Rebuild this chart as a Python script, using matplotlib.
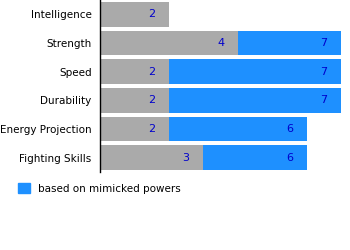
import matplotlib
matplotlib.use("Agg")
import matplotlib.pyplot as plt
from matplotlib.patches import Patch

# stats, top to bottom
categories = ["Intelligence", "Strength", "Speed", "Durability", "Energy Projection", "Fighting Skills"]
base = [2, 4, 2, 2, 2, 3]
mimicked = [2, 7, 7, 7, 6, 6]  # total with mimicked powers

grey = "#aaaaaa"
blue = "#1e90ff"
label_col = "#0000cc"

fig = plt.figure(figsize=(3.5, 2.5), dpi=100)
ax = fig.add_axes([100 / 350, 78 / 250, 250 / 350, 172 / 250])

y = list(range(len(categories)))
extra = [m - b for m, b in zip(mimicked, base)]
ax.barh(y, base, height=0.86, color=grey)
ax.barh(y, extra, left=base, height=0.86, color=blue)

for i in y:
    ax.text(base[i] - 0.4, i, str(base[i]), ha="right", va="center",
            color=label_col, fontsize=8)
    if mimicked[i] > base[i]:
        ax.text(mimicked[i] - 0.4, i, str(mimicked[i]), ha="right", va="center",
                color=label_col, fontsize=8)

ax.set_xlim(0, 7.25)
ax.set_ylim(len(categories) - 0.5, -0.5)
ax.set_yticks(y)
ax.set_yticklabels(categories, fontsize=7.5)
ax.tick_params(axis="y", length=0, pad=6)
ax.set_xticks([])
for s in ["top", "right", "bottom"]:
    ax.spines[s].set_visible(False)
ax.spines["left"].set_linewidth(1)

fig.legend(handles=[Patch(color=blue, label="based on mimicked powers")],
           loc="upper left", bbox_to_anchor=(0.025, 0.305), frameon=False,
           fontsize=7.5, handlelength=1.1, handleheight=1.1, handletextpad=0.8)

fig.savefig("out.png")
